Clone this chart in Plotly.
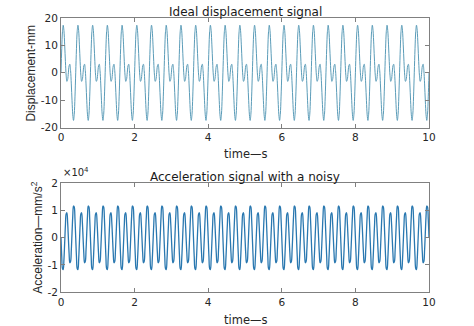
import numpy as np
import plotly.graph_objects as go

# ---- data ----
n_cycles = 25            # periods visible in 0..10 s
cycle_period = 0.4       # s
# one period of the displacement signal (mm), 20 samples per period
disp_cycle = [0.0, 8.79, 15.13, 17.38, 15.34, 10.2, 4.06, -0.88, -3.13, -2.49,
              0.0, 2.49, 3.13, 0.88, -4.06, -10.2, -15.34, -17.38, -15.13, -8.79]
# one period of the acceleration signal (mm/s^2), 20 samples per period
acc_cycle = [0, -6906, -11329, -11727, -8062, -1800, 4638, 8815, 9213, 5794,
             0, -5794, -9213, -8815, -4638, 1800, 8062, 11727, 11329, 6906]

x_ticks = [0, 2, 4, 6, 8, 10]
disp_ticks = [-20, -10, 0, 10, 20]
disp_ticktext = ["-20", "-10", "0", "10", "20"]
acc_ticks = [-20000, -10000, 0, 10000, 20000]
acc_ticktext = ["-2", "-1", "0", "1", "2"]

spc = len(disp_cycle)
time = np.round(np.arange(n_cycles * spc + 1) * cycle_period / spc, 4)
disp = disp_cycle * n_cycles + [disp_cycle[0]]
acc = acc_cycle * n_cycles + [acc_cycle[0]]

FONT = "DejaVu Sans"
fig = go.Figure()
fig.add_trace(go.Scatter(x=time, y=disp, mode="lines", line=dict(color="#5b9cb8", width=1.0, shape="spline"),
                         xaxis="x", yaxis="y", showlegend=False))
fig.add_trace(go.Scatter(x=time, y=acc, mode="lines", line=dict(color="#2a78b0", width=1.3, shape="spline"),
                         xaxis="x2", yaxis="y2", showlegend=False))

axis_common = dict(showline=True, mirror="ticks", linecolor="#808080", linewidth=1,
                   ticks="inside", ticklen=4, tickcolor="#808080", showgrid=False, zeroline=False,
                   tickfont=dict(family=FONT, size=10.5, color="#262626"))

fig.update_layout(
    width=474, height=326,
    margin=dict(l=61, r=45, t=13, b=34),
    paper_bgcolor="white", plot_bgcolor="white",
    xaxis=dict(domain=[0, 1], anchor="y", range=[0, 10], tickvals=x_ticks, **axis_common),
    yaxis=dict(domain=[0.6, 1.0], anchor="x", range=[-20, 20], tickvals=disp_ticks,
               ticktext=disp_ticktext, **axis_common),
    xaxis2=dict(domain=[0, 1], anchor="y2", range=[0, 10], tickvals=x_ticks, **axis_common),
    yaxis2=dict(domain=[0, 0.396], anchor="x2", range=[-20000, 20000], tickvals=acc_ticks,
                ticktext=acc_ticktext, **axis_common),
)

ann_font = dict(family=FONT, size=12, color="#1a1a1a")
ylab_font = dict(family="Liberation Sans", size=12, color="#262626")
annotations = [
    dict(text="Ideal displacement signal", x=0.5, y=1.0215, xref="paper", yref="paper",
         showarrow=False, xanchor="center", yanchor="middle", font=ann_font),
    dict(text="Acceleration signal with a noisy", x=0.5, y=0.419, xref="paper", yref="paper",
         showarrow=False, xanchor="center", yanchor="middle", font=ann_font),
    dict(text="time\u2014s", x=0.5, y=0.5036, xref="paper", yref="paper",
         showarrow=False, xanchor="center", yanchor="middle", font=dict(family=FONT, size=11.5, color="#262626")),
    dict(text="time\u2014s", x=0.5, y=-0.102, xref="paper", yref="paper",
         showarrow=False, xanchor="center", yanchor="middle", font=dict(family=FONT, size=11.5, color="#262626")),
    dict(text="Displacement-mm", x=-0.082, y=0.80, xref="paper", yref="paper", textangle=-90,
         showarrow=False, xanchor="center", yanchor="middle", font=ylab_font),
    dict(text="Acceleration\u2014mm/s<sup>2</sup>", x=-0.066, y=0.197, xref="paper", yref="paper", textangle=-90,
         showarrow=False, xanchor="center", yanchor="middle", font=ylab_font),
    dict(text="\u00d710<sup>4</sup>", x=0.0, y=0.41, xref="paper", yref="paper",
         showarrow=False, xanchor="left", yanchor="bottom", font=dict(family=FONT, size=10, color="#262626")),
]
fig.update_layout(annotations=annotations)

fig.write_html("out.html")
